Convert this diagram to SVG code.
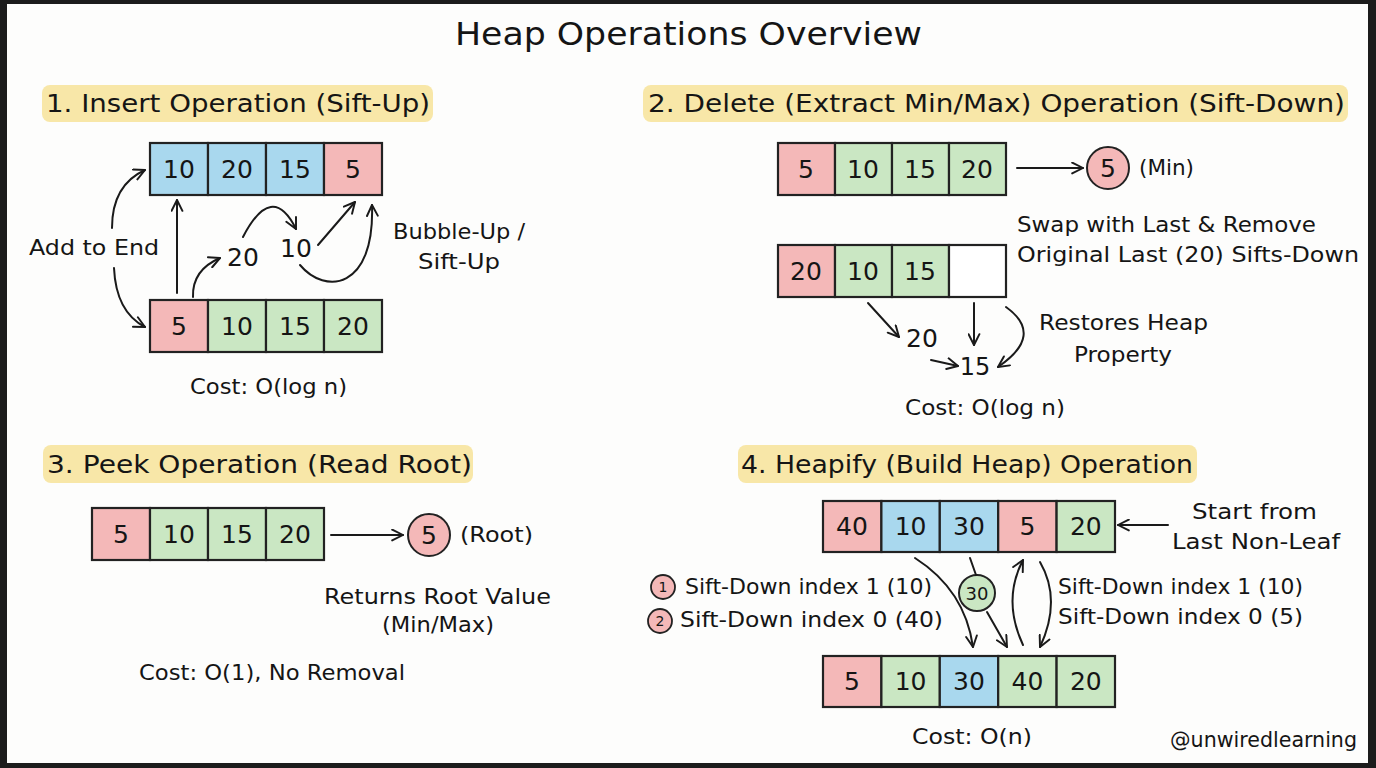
<svg xmlns="http://www.w3.org/2000/svg" width="1376" height="768" viewBox="0 0 1376 768">
<defs>
<marker id="ah" viewBox="0 0 12 12" refX="11" refY="6" markerWidth="13" markerHeight="13" markerUnits="userSpaceOnUse" orient="auto">
<path d="M1,1 L11,6 L1,11" fill="none" stroke="#1a1a1a" stroke-width="1.8" stroke-linecap="round" stroke-linejoin="round"/>
</marker>
<style>
text{font-family:"DejaVu Sans","Liberation Sans",sans-serif;fill:#151515}
.t{font-size:32px}
.h{font-size:24px}
.l{font-size:22px}
.n{font-size:25px;text-anchor:middle}
.hl{fill:#f8e7a8}
.cb{fill:#a9d8ee;stroke:#222;stroke-width:2.2}
.cp{fill:#f4b8b8;stroke:#222;stroke-width:2.2}
.cg{fill:#cae7c3;stroke:#222;stroke-width:2.2}
.cw{fill:#ffffff;stroke:#222;stroke-width:2.2}
.a{fill:none;stroke:#1a1a1a;stroke-width:2;stroke-linecap:round;marker-end:url(#ah)}
.p{fill:none;stroke:#1a1a1a;stroke-width:2;stroke-linecap:round}
</style>
</defs>
<rect x="0" y="0" width="1376" height="768" fill="#1c1c1c"/>
<rect x="7" y="4" width="1361" height="759" fill="#fdfdfc"/>

<g id="title"><text class="t" x="455" y="45" textLength="467" lengthAdjust="spacingAndGlyphs">Heap Operations Overview</text></g>

<g id="hdr1"><rect class="hl" x="42" y="85" width="391" height="37" rx="8"/><text class="h" x="46" y="112" textLength="384" lengthAdjust="spacingAndGlyphs">1. Insert Operation (Sift-Up)</text></g>
<g id="hdr2"><rect class="hl" x="643" y="85" width="705" height="37" rx="8"/><text class="h" x="648" y="112" textLength="697" lengthAdjust="spacingAndGlyphs">2. Delete (Extract Min/Max) Operation (Sift-Down)</text></g>
<g id="hdr3"><rect class="hl" x="43" y="445" width="430" height="38" rx="8"/><text class="h" x="47" y="473" textLength="425" lengthAdjust="spacingAndGlyphs">3. Peek Operation (Read Root)</text></g>
<g id="hdr4"><rect class="hl" x="738" y="445" width="459" height="38" rx="8"/><text class="h" x="741" y="473" textLength="452" lengthAdjust="spacingAndGlyphs">4. Heapify (Build Heap) Operation</text></g>

<!-- Section 1 -->
<g id="s1-top">
<rect class="cb" x="150" y="143" width="58" height="52"/><rect class="cb" x="208" y="143" width="58" height="52"/><rect class="cb" x="266" y="143" width="58" height="52"/><rect class="cp" x="324" y="143" width="58" height="52"/>
<text class="n" x="179" y="178">10</text><text class="n" x="237" y="178">20</text><text class="n" x="295" y="178">15</text><text class="n" x="353" y="178">5</text>
</g>
<g id="s1-bottom">
<rect class="cp" x="150" y="300" width="58" height="52"/><rect class="cg" x="208" y="300" width="58" height="52"/><rect class="cg" x="266" y="300" width="58" height="52"/><rect class="cg" x="324" y="300" width="58" height="52"/>
<text class="n" x="179" y="335">5</text><text class="n" x="237" y="335">10</text><text class="n" x="295" y="335">15</text><text class="n" x="353" y="335">20</text>
</g>
<g id="s1-labels">
<text class="l" x="29" y="255" textLength="130" lengthAdjust="spacingAndGlyphs">Add to End</text>
<text x="243" y="266" font-size="25" text-anchor="middle">20</text>
<text x="296" y="257" font-size="25" text-anchor="middle">10</text>
<text class="l" x="393" y="239" textLength="132" lengthAdjust="spacingAndGlyphs">Bubble-Up /</text>
<text class="l" x="418" y="269" textLength="82" lengthAdjust="spacingAndGlyphs">Sift-Up</text>
<text class="l" x="190" y="394" textLength="157" lengthAdjust="spacingAndGlyphs">Cost: O(log n)</text>
</g>

<!-- Section 2 -->
<g id="s2-top">
<rect class="cp" x="778" y="143" width="57" height="52"/><rect class="cg" x="835" y="143" width="57" height="52"/><rect class="cg" x="892" y="143" width="57" height="52"/><rect class="cg" x="949" y="143" width="57" height="52"/>
<text class="n" x="806" y="178">5</text><text class="n" x="863" y="178">10</text><text class="n" x="920" y="178">15</text><text class="n" x="977" y="178">20</text>
</g>
<g id="s2-min">
<circle cx="1108" cy="168" r="21" fill="#f4b8b8" stroke="#222" stroke-width="2"/>
<text class="n" x="1108" y="177">5</text>
<text class="l" x="1139" y="175" textLength="55" lengthAdjust="spacingAndGlyphs">(Min)</text>
</g>
<g id="s2-second">
<rect class="cp" x="778" y="245" width="57" height="52"/><rect class="cg" x="835" y="245" width="57" height="52"/><rect class="cg" x="892" y="245" width="57" height="52"/><rect class="cw" x="949" y="245" width="57" height="52"/>
<text class="n" x="806" y="280">20</text><text class="n" x="863" y="280">10</text><text class="n" x="920" y="280">15</text>
</g>
<g id="s2-labels">
<text class="l" x="1017" y="232" textLength="299" lengthAdjust="spacingAndGlyphs">Swap with Last &amp; Remove</text>
<text class="l" x="1017" y="262" textLength="342" lengthAdjust="spacingAndGlyphs">Original Last (20) Sifts-Down</text>
<text x="922" y="347" font-size="25" text-anchor="middle">20</text>
<text x="975" y="375" font-size="24" text-anchor="middle">15</text>
<text class="l" x="1039" y="330" textLength="169" lengthAdjust="spacingAndGlyphs">Restores Heap</text>
<text class="l" x="1074" y="362" textLength="98" lengthAdjust="spacingAndGlyphs">Property</text>
<text class="l" x="905" y="415" textLength="160" lengthAdjust="spacingAndGlyphs">Cost: O(log n)</text>
</g>

<!-- Section 3 -->
<g id="s3-array">
<rect class="cp" x="92" y="508" width="58" height="52"/><rect class="cg" x="150" y="508" width="58" height="52"/><rect class="cg" x="208" y="508" width="58" height="52"/><rect class="cg" x="266" y="508" width="58" height="52"/>
<text class="n" x="121" y="543">5</text><text class="n" x="179" y="543">10</text><text class="n" x="237" y="543">15</text><text class="n" x="295" y="543">20</text>
</g>
<g id="s3-root">
<circle cx="429" cy="535" r="21" fill="#f4b8b8" stroke="#222" stroke-width="2"/>
<text class="n" x="429" y="544">5</text>
<text class="l" x="460" y="542" textLength="73" lengthAdjust="spacingAndGlyphs">(Root)</text>
</g>
<g id="s3-labels">
<text class="l" x="324" y="604" textLength="227" lengthAdjust="spacingAndGlyphs">Returns Root Value</text>
<text class="l" x="382" y="632" textLength="112" lengthAdjust="spacingAndGlyphs">(Min/Max)</text>
<text class="l" x="139" y="680" textLength="266" lengthAdjust="spacingAndGlyphs">Cost: O(1), No Removal</text>
</g>

<!-- Section 4 -->
<g id="s4-top">
<rect class="cp" x="823" y="501" width="58.4" height="51"/><rect class="cb" x="881.4" y="501" width="58.4" height="51"/><rect class="cb" x="939.8" y="501" width="58.4" height="51"/><rect class="cp" x="998.2" y="501" width="58.4" height="51"/><rect class="cg" x="1056.6" y="501" width="58.4" height="51"/>
<text class="n" x="852" y="535">40</text><text class="n" x="910.6" y="535">10</text><text class="n" x="969" y="535">30</text><text class="n" x="1027.4" y="535">5</text><text class="n" x="1085.8" y="535">20</text>
</g>
<g id="s4-bottom">
<rect class="cp" x="823" y="656" width="58.4" height="51"/><rect class="cg" x="881.4" y="656" width="58.4" height="51"/><rect class="cb" x="939.8" y="656" width="58.4" height="51"/><rect class="cg" x="998.2" y="656" width="58.4" height="51"/><rect class="cg" x="1056.6" y="656" width="58.4" height="51"/>
<text class="n" x="852" y="690">5</text><text class="n" x="910.6" y="690">10</text><text class="n" x="969" y="690">30</text><text class="n" x="1027.4" y="690">40</text><text class="n" x="1085.8" y="690">20</text>
</g>
<g id="s4-circle30">
<circle cx="977" cy="593" r="18" fill="#cae7c3" stroke="#222" stroke-width="2"/>
<text x="977" y="600" font-size="18" text-anchor="middle">30</text>
</g>
<g id="s4-steps">
<circle cx="663" cy="587" r="12" fill="#f4b8b8" stroke="#222" stroke-width="1.8"/>
<text x="663" y="592" font-size="14" text-anchor="middle">1</text>
<text class="l" x="685" y="594" textLength="247" lengthAdjust="spacingAndGlyphs">Sift-Down index 1 (10)</text>
<circle cx="660" cy="621" r="12" fill="#f4b8b8" stroke="#222" stroke-width="1.8"/>
<text x="660" y="626" font-size="14" text-anchor="middle">2</text>
<text class="l" x="680" y="627" textLength="263" lengthAdjust="spacingAndGlyphs">Sift-Down index 0 (40)</text>
</g>
<g id="s4-labels">
<text class="l" x="1058" y="594" textLength="245" lengthAdjust="spacingAndGlyphs">Sift-Down index 1 (10)</text>
<text class="l" x="1058" y="624" textLength="245" lengthAdjust="spacingAndGlyphs">Sift-Down index 0 (5)</text>
<text class="l" x="1192" y="519" textLength="125" lengthAdjust="spacingAndGlyphs">Start from</text>
<text class="l" x="1172" y="549" textLength="168" lengthAdjust="spacingAndGlyphs">Last Non-Leaf</text>
<text class="l" x="912" y="744" textLength="120" lengthAdjust="spacingAndGlyphs">Cost: O(n)</text>
<text class="l" x="1170" y="747" textLength="187" lengthAdjust="spacingAndGlyphs">@unwiredlearning</text>
</g>

<g id="connectors">
<path class="a" d="M112,228 Q112,185 145,170"/>
<path class="a" d="M114,268 Q116,312 145,327"/>
<path class="a" d="M177,293 L177,200"/>
<path class="a" d="M193,297 Q192,270 220,258"/>
<path class="a" d="M243,237 Q272,181 296,229"/>
<path class="a" d="M318,245 L355,202"/>
<path class="a" d="M300,265 C325,295 375,290 372,205"/>
<path class="a" d="M1017,168 L1083,168"/>
<path class="a" d="M868,303 L899,337"/>
<path class="a" d="M931,360 L958,366"/>
<path class="a" d="M974,303 L974,345"/>
<path class="a" d="M1006,307 Q1045,335 998,367"/>
<path class="a" d="M331,535 L403,535"/>
<path class="a" d="M1168,525 L1118,525"/>
<path class="a" d="M915,558 Q965,590 973,647"/>
<path class="p" d="M970,558 L976,575"/>
<path class="a" d="M987,612 L1007,647"/>
<path class="a" d="M1023,645 Q1002,600 1023,560"/>
<path class="a" d="M1040,562 Q1062,600 1040,647"/>
</g>
</svg>
